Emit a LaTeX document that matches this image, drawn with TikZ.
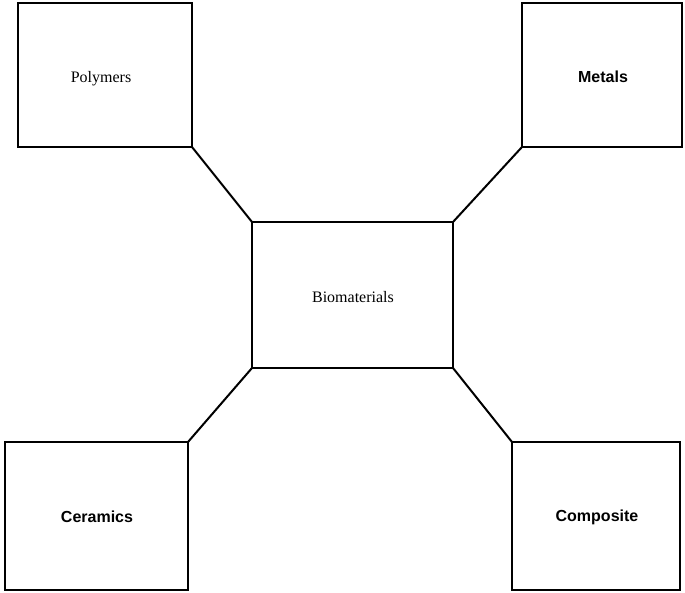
\documentclass[tikz,border=0pt]{standalone}
\usepackage{fontspec}
\usepackage{graphicx}
\setmainfont{Liberation Serif}
\newfontfamily\boldsans{Liberation Sans}
\newcommand{\serifbig}[1]{\scalebox{1.6}{#1}}
\newcommand{\sansbig}[1]{\scalebox{1.6}{\boldsans\bfseries #1}}
\begin{document}
\begin{tikzpicture}[x=1pt,y=-1pt,line width=2pt,
  bx/.style={draw,black,inner sep=0pt}]
\useasboundingbox (0,0) rectangle (685,593);
\draw[bx] (18,3) rectangle (192,147);
\draw[bx] (522,3) rectangle (682,147);
\draw[bx] (252,222) rectangle (453,368);
\draw[bx] (5,442) rectangle (188,590);
\draw[bx] (512,442) rectangle (680,590);
\coordinate (pbr) at (192,147);
\coordinate (mbl) at (522,147);
\coordinate (ctl) at (252,222);
\coordinate (ctr) at (453,222);
\coordinate (cbl) at (252,368);
\coordinate (cbr) at (453,368);
\coordinate (ktr) at (188,442);
\coordinate (qtl) at (512,442);
\draw (pbr) -- (ctl);
\draw (mbl) -- (ctr);
\draw (cbl) -- (ktr);
\draw (cbr) -- (qtl);
\node (p) at (101,79) {\serifbig{Polymers}};
\node (m) at (603,77) {\sansbig{Metals}};
\node (b) at (353,297) {\serifbig{Biomaterials}};
\node (k) at (97,517) {\sansbig{Ceramics}};
\node (q) at (597,517) {\sansbig{Composite}};
\end{tikzpicture}
\end{document}
